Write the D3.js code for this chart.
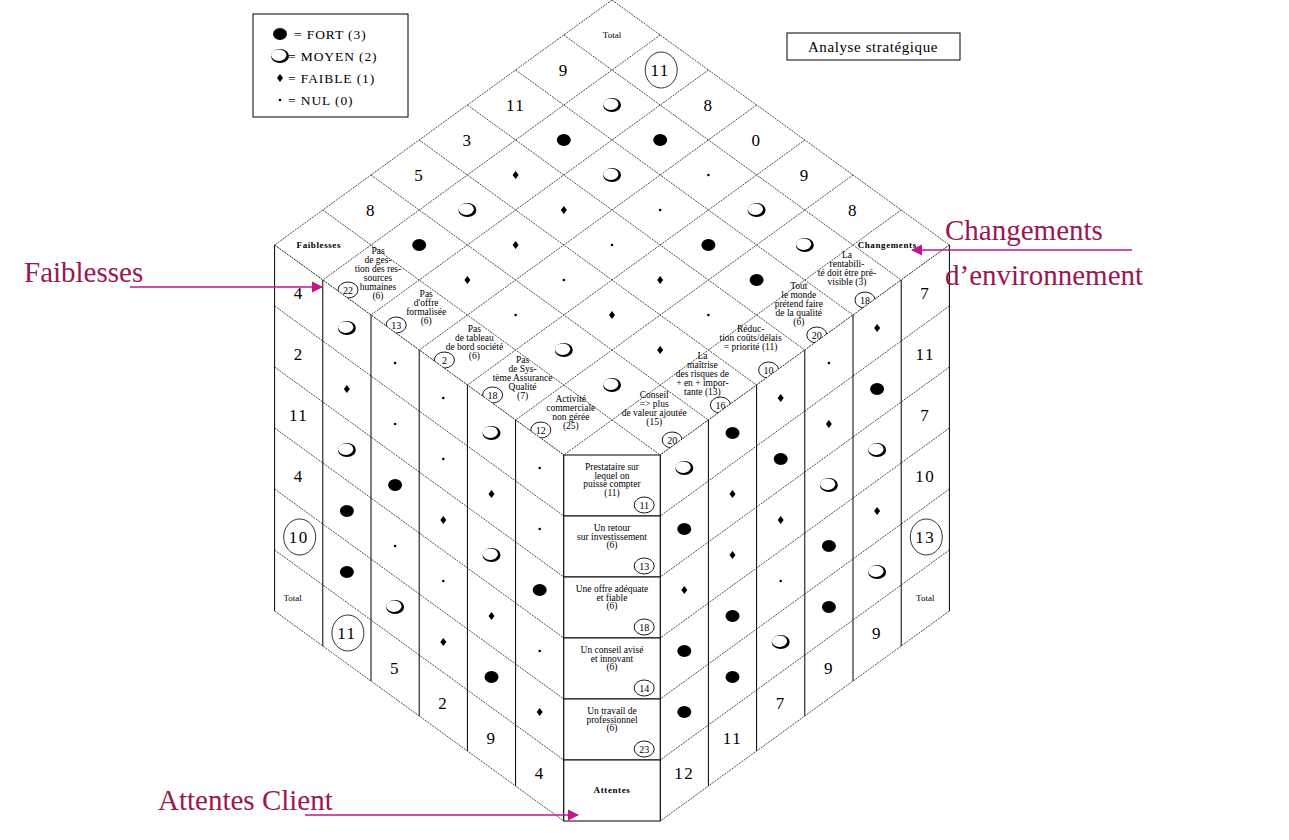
<!DOCTYPE html>
<html>
<head>
<meta charset="utf-8">
<script src="https://cdn.jsdelivr.net/npm/d3@7"></script>
<style>
  body { margin: 0; background: #fff; }
  svg { display: block; font-family: "Liberation Serif", serif; }
</style>
</head>
<body>
<svg id="chart" width="1289" height="840"></svg>
<script>
// 3 = FORT, 2 = MOYEN, 1 = FAIBLE, 0 = NUL
const faiblesses = [
  { lines: ['Pas', 'de ges-', 'tion des res-', 'sources', 'humaines', '(6)'], score: 22 },
  { lines: ['Pas', "d'offre", 'formalisée', '(6)'], score: 13 },
  { lines: ['Pas', 'de tableau', 'de bord société', '(6)'], score: 2 },
  { lines: ['Pas', 'de Sys-', 'tème Assurance', 'Qualité', '(7)'], score: 18 },
  { lines: ['Activité', 'commerciale', 'non gérée', '(25)'], score: 12 }
];
const changements = [
  { lines: ['La', 'rentabili-', 'té doit être pré-', 'visible  (3)'], score: 18 },
  { lines: ['Tout', 'le monde', 'prétend faire', 'de la qualité', '(6)'], score: 20 },
  { lines: ['Réduc-', 'tion coûts/délais', '= priorité  (11)'], score: 10 },
  { lines: ['La', 'maîtrise', 'des risques de', '+ en + impor-', 'tante (13)'], score: 16 },
  { lines: ['Conseil', '=> plus', 'de valeur ajoutée', '(15)'], score: 20 }
];
const attentes = [
  { lines: ['Prestataire sur', 'lequel on', 'puisse compter', '(11)'], score: 11 },
  { lines: ['Un retour', 'sur investissement', '(6)'], score: 13 },
  { lines: ['Une offre adéquate', 'et fiable', '(6)'], score: 18 },
  { lines: ['Un conseil avisé', 'et innovant', '(6)'], score: 14 },
  { lines: ['Un travail de', 'professionnel', '(6)'], score: 23 }
];

// top face: topMatrix[faiblesse][changement]
const topMatrix = [
  [2, 3, 1, 2, 3],
  [3, 2, 1, 1, 1],
  [0, 0, 0, 0, 0],
  [2, 3, 1, 1, 2],
  [2, 3, 0, 1, 2]
];
const topFaibTotals = [11, 8, 0, 9, 8];
const topChangTotals = [9, 11, 3, 5, 8];

// left face: leftMatrix[faiblesse][attente]
const leftMatrix = [
  [2, 1, 2, 3, 3],
  [0, 0, 3, 0, 2],
  [0, 0, 1, 0, 1],
  [2, 1, 2, 1, 3],
  [0, 0, 3, 0, 1]
];
const leftFaibTotals = [11, 5, 2, 9, 4];
const leftAttTotals = [4, 2, 11, 4, 10];

// right face: rightMatrix[changement][attente]
const rightMatrix = [
  [1, 3, 2, 1, 2],
  [0, 1, 2, 3, 3],
  [1, 3, 1, 0, 2],
  [3, 1, 1, 3, 3],
  [2, 3, 1, 3, 3]
];
const rightChangTotals = [9, 9, 7, 11, 12];
const rightAttTotals = [7, 11, 7, 10, 13];

// which totals are circled in the original
const circledTopFaib = [0];
const circledLeftFaib = [0];
const circledLeftAtt = [4];
const circledRightAtt = [4];

const legendItems = [
  { v: 3, label: '= FORT (3)' },
  { v: 2, label: '= MOYEN  (2)' },
  { v: 1, label: '= FAIBLE (1)' },
  { v: 0, label: '= NUL (0)' }
];

const svg = d3.select('#chart');
const N = 7;
const cx0 = 612, ux = 48.2, uy = 35, rowH = 61;

const sx = d3.scaleLinear().domain([0, N]).range([0, N * ux]);
const sy = d3.scaleLinear().domain([0, N]).range([0, N * uy]);
const sr = d3.scaleLinear().domain([0, 6]).range([0, 6 * rowH]);

const topPt = (a, b) => [cx0 + sx(a) - sx(b), sy(a) + sy(b)];
const leftPt = (a, r) => [cx0 - sx(N) + sx(a), sy(N) + sy(a) + sr(r)];
const rightPt = (b, r) => [cx0 + sx(N) - sx(b), sy(N) + sy(b) + sr(r)];

const line = d3.line();
const g = svg.append('g');

function drawSymbol(sel, v, x, y) {
  if (v === 3) {
    sel.append('ellipse').attr('cx', x).attr('cy', y).attr('rx', 7).attr('ry', 6).attr('fill', '#000');
  } else if (v === 2) {
    sel.append('ellipse').attr('cx', x).attr('cy', y).attr('rx', 9).attr('ry', 7).attr('fill', '#000');
    sel.append('ellipse').attr('cx', x - 1.2).attr('cy', y - 0.8).attr('rx', 7.6).attr('ry', 5.8).attr('fill', '#fff');
  } else if (v === 1) {
    sel.append('path').attr('d', `M${x},${y - 4}L${x + 3},${y}L${x},${y + 4}L${x - 3},${y}Z`).attr('fill', '#000');
  } else {
    sel.append('circle').attr('cx', x).attr('cy', y).attr('r', 1.3).attr('fill', '#000');
  }
}
function number(sel, txt, x, y, circled) {
  sel.append('text').attr('x', x).attr('y', y + 6).attr('text-anchor', 'middle')
    .attr('font-size', 17).attr('letter-spacing', 1.5).text(txt);
  if (circled) {
    sel.append('ellipse').attr('cx', x + 1).attr('cy', y).attr('rx', 16).attr('ry', 18)
      .attr('fill', 'none').attr('stroke', '#000').attr('stroke-width', 0.8);
  }
}
function smallCircle(sel, txt, x, y) {
  sel.append('ellipse').attr('cx', x).attr('cy', y).attr('rx', 10).attr('ry', 8)
    .attr('fill', 'none').attr('stroke', '#000').attr('stroke-width', 0.9);
  sel.append('text').attr('x', x).attr('y', y + 3.5).attr('text-anchor', 'middle')
    .attr('font-size', 10).text(txt);
}
function block(sel, lines, x, y, size = 9.5, lh = 9) {
  const t = sel.append('text').attr('text-anchor', 'middle').attr('font-size', size);
  lines.forEach((l, i) => t.append('tspan').attr('x', x).attr('y', y + i * lh).text(l));
}

// ---- top face grid
for (let k = 0; k <= N; k++) {
  g.append('path').attr('d', line([topPt(k, 0), topPt(k, N)]))
    .attr('stroke', '#000').attr('stroke-width', 0.7).attr('stroke-dasharray', '2,1');
  g.append('path').attr('d', line([topPt(0, k), topPt(N, k)]))
    .attr('stroke', '#000').attr('stroke-width', 0.7).attr('stroke-dasharray', '2,1');
}
const topCenter = (a, b) => topPt(a + 0.5, b + 0.5);
topMatrix.forEach((row, i) => row.forEach((v, j) => {
  const [x, y] = topCenter(i + 1, j + 1);
  drawSymbol(g, v, x, y);
}));
topFaibTotals.forEach((v, i) => {
  const [x, y] = topCenter(i + 1, 0);
  number(g, v, x, y, circledTopFaib.includes(i));
});
topChangTotals.forEach((v, j) => {
  const [x, y] = topCenter(0, j + 1);
  number(g, v, x, y, false);
});
{
  const [x, y] = topCenter(0, 0);
  g.append('text').attr('x', x).attr('y', y + 3).attr('text-anchor', 'middle').attr('font-size', 9).text('Total');
  const [fx, fy] = topCenter(0, 6);
  g.append('text').attr('x', fx - 4).attr('y', fy + 3).attr('text-anchor', 'middle').attr('font-size', 9)
    .attr('font-weight', 'bold').attr('letter-spacing', 0.6).text('Faiblesses');
  const [chx, chy] = topCenter(6, 0);
  g.append('text').attr('x', chx - 14).attr('y', chy + 3).attr('text-anchor', 'middle').attr('font-size', 9)
    .attr('font-weight', 'bold').attr('letter-spacing', 0.6).text('Changements');
}
faiblesses.forEach((d, i) => {
  const [x, y] = topCenter(i + 1, 6);
  block(g, d.lines, x + 7, y - 26 + (6 - d.lines.length) * 4);
  smallCircle(g, d.score, x - 23, y + 10);
});
changements.forEach((d, j) => {
  const [x, y] = topCenter(6, j + 1);
  block(g, d.lines, x - 6, y - 26 + (5 - d.lines.length) * 4);
  smallCircle(g, d.score, x + 12, y + 20);
});

// ---- left face
const lf = g.append('g');
lf.append('path').attr('d', line([leftPt(0, 0), leftPt(6, 0), leftPt(6, 6), leftPt(0, 6), leftPt(0, 0)]))
  .attr('fill', '#fff').attr('stroke', 'none');
for (let a = 0; a <= 6; a++) {
  lf.append('path').attr('d', line([leftPt(a, 0), leftPt(a, 6)])).attr('stroke', '#000').attr('stroke-width', 1);
}
for (let r = 0; r <= 6; r++) {
  lf.append('path').attr('d', line([leftPt(0, r), leftPt(6, r)]))
    .attr('stroke', '#000').attr('stroke-width', 0.7).attr('stroke-dasharray', '2,1');
}
const leftCenter = (a, r) => leftPt(a + 0.5, r + 0.5);
leftMatrix.forEach((col, i) => col.forEach((v, r) => {
  const [x, y] = leftCenter(i + 1, r);
  drawSymbol(lf, v, x, y);
}));
leftFaibTotals.forEach((v, i) => {
  const [x, y] = leftCenter(i + 1, 5);
  number(lf, v, x, y, circledLeftFaib.includes(i));
});
leftAttTotals.forEach((v, r) => {
  const [x, y] = leftCenter(0, r);
  number(lf, v, x, y, circledLeftAtt.includes(r));
});
{
  const [x, y] = leftCenter(0, 5);
  lf.append('text').attr('x', x - 6).attr('y', y + 3).attr('text-anchor', 'middle').attr('font-size', 9).text('Total');
}

// ---- right face
const rf = g.append('g');
rf.append('path').attr('d', line([rightPt(0, 0), rightPt(6, 0), rightPt(6, 6), rightPt(0, 6), rightPt(0, 0)]))
  .attr('fill', '#fff').attr('stroke', 'none');
for (let b = 0; b <= 6; b++) {
  rf.append('path').attr('d', line([rightPt(b, 0), rightPt(b, 6)])).attr('stroke', '#000').attr('stroke-width', 1);
}
for (let r = 0; r <= 6; r++) {
  rf.append('path').attr('d', line([rightPt(0, r), rightPt(6, r)]))
    .attr('stroke', '#000').attr('stroke-width', 0.7).attr('stroke-dasharray', '2,1');
}
const rightCenter = (b, r) => rightPt(b + 0.5, r + 0.5);
rightMatrix.forEach((col, j) => col.forEach((v, r) => {
  const [x, y] = rightCenter(j + 1, r);
  drawSymbol(rf, v, x, y);
}));
rightChangTotals.forEach((v, j) => {
  const [x, y] = rightCenter(j + 1, 5);
  number(rf, v, x, y, false);
});
rightAttTotals.forEach((v, r) => {
  const [x, y] = rightCenter(0, r);
  number(rf, v, x, y, circledRightAtt.includes(r));
});
{
  const [x, y] = rightCenter(0, 5);
  rf.append('text').attr('x', x).attr('y', y + 3).attr('text-anchor', 'middle').attr('font-size', 9).text('Total');
}

// ---- front strip (Attentes)
const fs = g.append('g');
const [fx0, fy0] = leftPt(6, 0);
const [fx1] = rightPt(6, 0);
for (let r = 0; r < 6; r++) {
  fs.append('rect').attr('x', fx0).attr('y', fy0 + sr(r)).attr('width', fx1 - fx0).attr('height', rowH)
    .attr('fill', '#fff').attr('stroke', '#000').attr('stroke-width', 1);
}
attentes.forEach((d, r) => {
  const top = fy0 + sr(r);
  block(fs, d.lines, (fx0 + fx1) / 2, top + 15, 9.5, 8.5);
  smallCircle(fs, d.score, fx1 - 16, top + 50);
});
fs.append('text').attr('x', (fx0 + fx1) / 2).attr('y', fy0 + sr(5) + 33).attr('text-anchor', 'middle')
  .attr('font-size', 9).attr('font-weight', 'bold').attr('letter-spacing', 0.6).text('Attentes');

// ---- legend
const lg = svg.append('g').attr('transform', 'translate(253,14)');
lg.append('rect').attr('width', 155).attr('height', 103).attr('fill', '#fff').attr('stroke', '#000');
legendItems.forEach((d, i) => {
  const y = 20 + i * 22;
  drawSymbol(lg, d.v, 27, y);
  lg.append('text').attr('x', d.v === 3 ? 41 : 35).attr('y', y + 5).attr('font-size', 13.5)
    .attr('letter-spacing', 0.9).text(d.label);
});

// ---- title box
svg.append('rect').attr('x', 787).attr('y', 33).attr('width', 173).attr('height', 27)
  .attr('fill', '#fff').attr('stroke', '#000');
svg.append('text').attr('x', 873).attr('y', 52).attr('text-anchor', 'middle').attr('font-size', 15)
  .attr('letter-spacing', 0.6).text('Analyse stratégique');

// ---- annotations
const defs = svg.append('defs');
defs.append('marker').attr('id', 'arr').attr('viewBox', '0 0 10 10').attr('refX', 9).attr('refY', 5)
  .attr('markerWidth', 7).attr('markerHeight', 7).attr('orient', 'auto')
  .append('path').attr('d', 'M0,0L10,5L0,10Z').attr('fill', '#c4168c');
const annColor = '#9b1750';
const ann = [
  { text: ['Faiblesses'], x: 24, y: 282, from: [130, 287], to: [322, 287] },
  { text: ['Changements', 'd’environnement'], x: 945, y: 240, from: [1132, 250], to: [912, 250] },
  { text: ['Attentes Client'], x: 158, y: 810, from: [305, 815], to: [578, 815] }
];
ann.forEach(d => {
  const t = svg.append('text').attr('font-family', '"Liberation Serif", serif').attr('font-size', 29)
    .attr('fill', annColor);
  d.text.forEach((l, i) => t.append('tspan').attr('x', d.x).attr('y', d.y + i * 45).text(l));
  svg.append('path').attr('d', line([d.from, d.to])).attr('stroke', '#c4168c').attr('stroke-width', 1.6)
    .attr('marker-end', 'url(#arr)');
});
</script>
</body>
</html>
